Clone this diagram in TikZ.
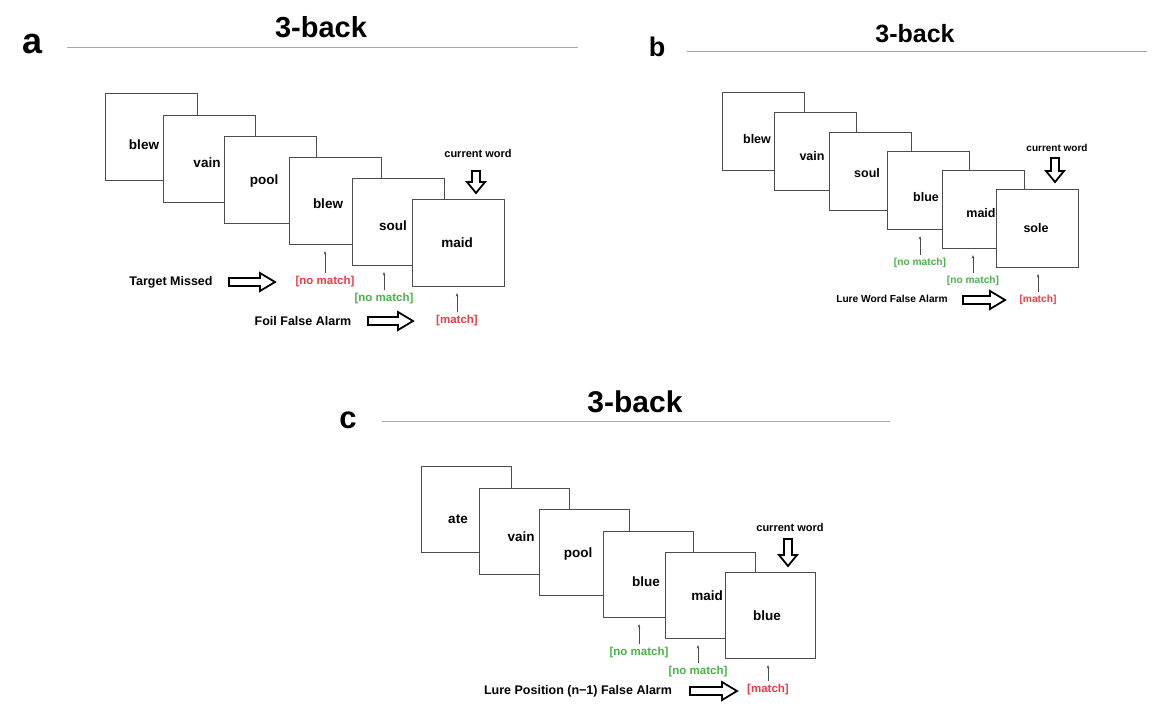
\documentclass[tikz,border=0pt]{standalone}
\usepackage{fontspec}
\setmainfont{Liberation Sans}
\usetikzlibrary{arrows.meta}
\definecolor{mred}{RGB}{232,62,74}
\definecolor{mgreen}{RGB}{74,180,74}
\definecolor{rulegray}{RGB}{168,168,168}
\newcommand\fs[1]{\fontsize{#1}{#1}\selectfont\bfseries}
% hollow down arrow: x, ytop, ytip
\newcommand\hollowdown[3]{%
  \draw[hollow] (#1-4,#2) -- (#1+4,#2) -- (#1+4,#3-11) -- (#1+9,#3-11) -- (#1,#3)
    -- (#1-9,#3-11) -- (#1-4,#3-11) -- cycle;}
% hollow right arrow: xstart, xtip, y
\newcommand\hollowright[3]{%
  \draw[hollow] (#1,#3-4) -- (#2-15,#3-4) -- (#2-15,#3-9) -- (#2,#3) -- (#2-15,#3+9)
    -- (#2-15,#3+4) -- (#1,#3+4) -- cycle;}
\begin{document}
\begin{tikzpicture}[x=1pt,y=-1pt,
  cardA/.style={draw=black!70, fill=white, line width=0.9pt, minimum width=92pt,
    minimum height=87pt, anchor=north west, inner sep=0pt, outer sep=0pt},
  cardB/.style={cardA, minimum width=82pt, minimum height=78pt},
  cardC/.style={cardA, minimum width=90pt, minimum height=86pt},
  wordA/.style={font={\fs{13.5}}, inner sep=0pt},
  wordB/.style={font={\fs{12.5}}, inner sep=0pt},
  lblA/.style={font={\fs{12.5}}, inner sep=0pt},
  lblB/.style={font={\fs{10.2}}, inner sep=0pt},
  curA/.style={font={\fs{11}}, inner sep=0pt},
  curB/.style={font={\fs{10}}, inner sep=0pt},
  resA/.style={font={\fs{11.5}}, inner sep=0pt},
  resB/.style={font={\fs{10.2}}, inner sep=0pt},
  tick/.style={draw=black!70, line width=0.6pt, -{Stealth[length=3.5pt,width=2.6pt]}, shorten >=7pt},
  hollow/.style={draw=black, fill=white, line width=1.8pt, line join=miter},
  rule/.style={draw=rulegray, line width=1.6pt},
  title/.style={anchor=base, inner sep=0pt},
]
\fill[white] (0,0) rectangle (1159,709);
\useasboundingbox (0,0) rectangle (1159,709);

% ---------------- Panel a ----------------
\node[title, font={\fs{36}}] (la) at (33,53) {a};
\node[title, font={\fs{29}}] (ta) at (321,38) {3-back};
\coordinate (ra1) at (67,47.5);
\coordinate (ra2) at (578,47.5);
\draw[rule] (ra1) -- (ra2);

\node[cardA] (a1) at (105,93) {};
\node[wordA] (wa1) at (144,145) {blew};
\node[cardA] (a2) at (163,115) {};
\node[wordA] (wa2) at (207,163) {vain};
\node[cardA] (a3) at (224,136) {};
\node[wordA] (wa3) at (264,181) {pool};
\node[cardA] (a4) at (289,157) {};
\node[wordA] (wa4) at (328,204) {blew};
\node[cardA] (a5) at (352,178) {};
\node[wordA] (wa5) at (393,226) {soul};
\node[cardA] (a6) at (412,199) {};
\node[wordA] (wa6) at (457,243) {maid};

\node[curA] (cwa) at (478,154) {current word};
\hollowdown{476}{171}{193}

\node[resA, text=mred] (ra) at (325,282) {[no match]};
\node[resA, text=mgreen] (rb) at (384,299) {[no match]};
\node[resA, text=mred] (rc) at (457,321) {[match]};
\draw[tick] ([yshift=3pt]ra.north) -- (ra.north |- a4.south);
\draw[tick] ([yshift=3pt]rb.north) -- (rb.north |- a5.south);
\draw[tick] ([yshift=3pt]rc.north) -- (rc.north |- a6.south);

\node[lblA] (tm) at (171,282) {Target Missed};
\hollowright{229}{275}{282}
\node[lblA] (ffa) at (303,321) {Foil False Alarm};
\hollowright{368}{413}{321}

% ---------------- Panel b ----------------
\node[title, font={\fs{27}}] (lb) at (657,57) {b};
\node[title, font={\fs{25}}] (tb) at (915,43) {3-back};
\coordinate (rb1) at (687,51.5);
\coordinate (rb2) at (1147,51.5);
\draw[rule] (rb1) -- (rb2);

\node[cardB] (b1) at (722,92) {};
\node[wordB] (wb1) at (757,139) {blew};
\node[cardB] (b2) at (774,112) {};
\node[wordB] (wb2) at (812,156) {vain};
\node[cardB] (b3) at (829,132) {};
\node[wordB] (wb3) at (867,173) {soul};
\node[cardB] (b4) at (887,151) {};
\node[wordB] (wb4) at (926,197) {blue};
\node[cardB] (b5) at (942,170) {};
\node[wordB] (wb5) at (981,213) {maid};
\node[cardB] (b6) at (996,189) {};
\node[wordB] (wb6) at (1036,228) {sole};

\node[curB] (cwb) at (1057,148) {current word};
\hollowdown{1055}{158}{182}

\node[resB, text=mgreen] (sa) at (920,263) {[no match]};
\node[resB, text=mgreen] (sb) at (973,281) {[no match]};
\node[resB, text=mred] (sc) at (1038,300) {[match]};
\draw[tick] ([yshift=3pt]sa.north) -- (sa.north |- b4.south);
\draw[tick] ([yshift=3pt]sb.north) -- (sb.north |- b5.south);
\draw[tick] ([yshift=3pt]sc.north) -- (sc.north |- b6.south);

\node[lblB] (lwf) at (892,299) {Lure Word False Alarm};
\hollowright{963}{1005}{300}

% ---------------- Panel c ----------------
\node[title, font={\fs{31}}] (lc) at (348,428) {c};
\node[title, font={\fs{30}}] (tc) at (635,412) {3-back};
\coordinate (rc1) at (382,421.5);
\coordinate (rc2) at (890,421.5);
\draw[rule] (rc1) -- (rc2);

\node[cardC] (c1) at (421,466) {};
\node[wordA] (wc1) at (458,519) {ate};
\node[cardC] (c2) at (479,488) {};
\node[wordA] (wc2) at (521,537) {vain};
\node[cardC] (c3) at (539,509) {};
\node[wordA] (wc3) at (578,554) {pool};
\node[cardC] (c4) at (603,531) {};
\node[wordA] (wc4) at (646,582) {blue};
\node[cardC] (c5) at (665,552) {};
\node[wordA] (wc5) at (707,596) {maid};
\node[cardC] (c6) at (725,572) {};
\node[wordA] (wc6) at (767,616) {blue};

\node[curA] (cwc) at (790,528) {current word};
\hollowdown{788}{539}{566}

\node[resA, text=mgreen] (ua) at (639,653) {[no match]};
\node[resA, text=mgreen] (ub) at (698,672) {[no match]};
\node[resA, text=mred] (uc) at (768,690) {[match]};
\draw[tick] ([yshift=3pt]ua.north) -- (ua.north |- c4.south);
\draw[tick] ([yshift=3pt]ub.north) -- (ub.north |- c5.south);
\draw[tick] ([yshift=3pt]uc.north) -- (uc.north |- c6.south);

\node[lblA] (lpf) at (578,691) {Lure Position (n−1) False Alarm};
\hollowright{690}{737}{691}
\end{tikzpicture}
\end{document}
